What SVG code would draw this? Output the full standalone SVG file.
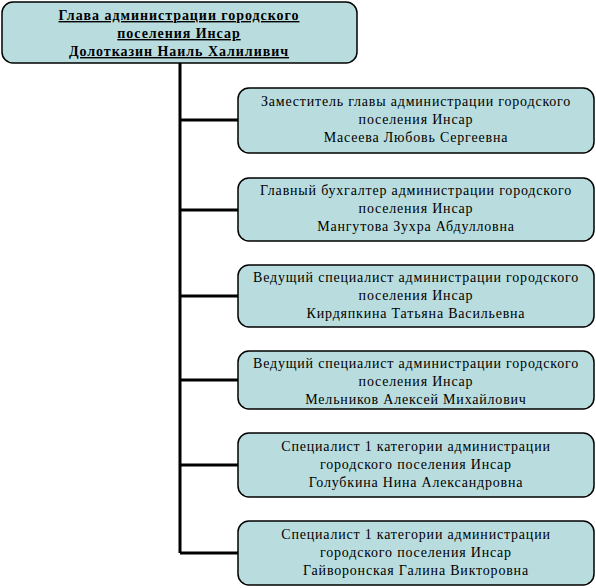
<svg xmlns="http://www.w3.org/2000/svg" width="596" height="588" viewBox="0 0 596 588">
<style>
.box{fill:#b9dddf;stroke:#000;stroke-width:1.5}
.t{font-family:"Liberation Serif","Times New Roman",serif;font-size:14px;letter-spacing:0.8px;fill:#000;text-anchor:middle}
.h{font-weight:bold;text-decoration:underline;letter-spacing:0.95px}
.c{stroke:#000;stroke-width:3;fill:none}
</style>
<rect width="596" height="588" fill="#fff"/>
<g id="connectors">
<path class="c" d="M180 63V553"/>
<path class="c" d="M180 120H238M180 210H238M180 296H238M180 380H238M180 465H238M180 553H238"/>
</g>
<g id="head">
<rect class="box" x="2" y="2" width="355" height="61" rx="11"/>
<text class="t h" x="179" y="20">Глава администрации городского</text>
<text class="t h" x="179" y="38">поселения Инсар</text>
<text class="t h" x="179" y="56">Долотказин Наиль Халиливич</text>
</g>
<g id="n1">
<rect class="box" x="238" y="88" width="356" height="65" rx="11"/>
<text class="t" x="416" y="106">Заместитель главы администрации городского</text>
<text class="t" x="416" y="124">поселения Инсар</text>
<text class="t" x="416" y="142">Масеева Любовь Сергеевна</text>
</g>
<g id="n2">
<rect class="box" x="238" y="178" width="356" height="63" rx="11"/>
<text class="t" x="416" y="195">Главный бухгалтер администрации городского</text>
<text class="t" x="416" y="213">поселения Инсар</text>
<text class="t" x="416" y="231">Мангутова Зухра Абдулловна</text>
</g>
<g id="n3">
<rect class="box" x="238" y="265" width="356" height="62" rx="11"/>
<text class="t" x="416" y="282">Ведущий специалист администрации городского</text>
<text class="t" x="416" y="300">поселения Инсар</text>
<text class="t" x="416" y="318">Кирдяпкина Татьяна Васильевна</text>
</g>
<g id="n4">
<rect class="box" x="238" y="351" width="356" height="58" rx="11"/>
<text class="t" x="416" y="368">Ведущий специалист администрации городского</text>
<text class="t" x="416" y="386">поселения Инсар</text>
<text class="t" x="416" y="404">Мельников Алексей Михайлович</text>
</g>
<g id="n5">
<rect class="box" x="238" y="433" width="356" height="64" rx="11"/>
<text class="t" x="416" y="451">Специалист 1 категории администрации</text>
<text class="t" x="416" y="469">городского поселения Инсар</text>
<text class="t" x="416" y="487">Голубкина Нина Александровна</text>
</g>
<g id="n6">
<rect class="box" x="238" y="521" width="356" height="64" rx="11"/>
<text class="t" x="416" y="539">Специалист 1 категории администрации</text>
<text class="t" x="416" y="557">городского поселения Инсар</text>
<text class="t" x="416" y="575">Гайворонская Галина Викторовна</text>
</g>
</svg>
